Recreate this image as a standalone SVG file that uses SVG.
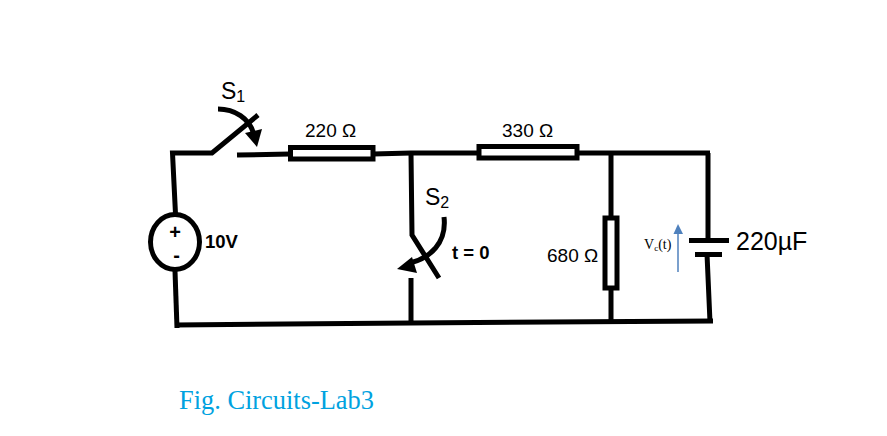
<svg xmlns="http://www.w3.org/2000/svg" width="887" height="436" viewBox="0 0 887 436">
<style>
.w{fill:none;stroke:#000;stroke-width:5}
.r{fill:#fff;stroke:#000;stroke-width:5}
.a{fill:#000;stroke:none}
text{font-family:"Liberation Sans",Arial,sans-serif;fill:#000}
.l{font-size:19px}
.b{font-size:18.500px;font-weight:bold}
.s{font-size:23px}
.sub{font-size:16px}
.t{font-family:"Liberation Serif","Times New Roman",serif}
</style>
<rect width="887" height="436" fill="#fff"/>
<g id="connectors">
<path class="w" d="M175.500 214L172.500 153H212L258 115"/>
<path class="w" d="M237 155L290 154"/>
<path class="w" d="M373 154L411 153H478"/>
<path class="w" d="M577 153H710"/>
<path class="w" d="M411 153L412 235L439 278"/>
<path class="w" d="M411 278V323"/>
<path class="w" d="M175 271L177 328"/>
<path class="w" d="M175 325L411 323L713 321"/>
<path class="w" d="M611 153V218M611 288V322"/>
<path class="w" d="M708 153V240M707 254L710 322"/>
</g>
<g id="s1-arrow">
<path class="w" d="M218 109C234 109 250 118 254 135"/>
<polygon class="a" points="257,147 245,133 262,129"/>
</g>
<g id="s2-arrow">
<path class="w" d="M444 217C447 243 430 258 410 263"/>
<polygon class="a" points="397,269 412,257 417,273"/>
</g>
<g id="source">
<ellipse cx="175" cy="242" rx="24.500" ry="27.500" fill="#fff" stroke="#000" stroke-width="5"/>
<text x="175" y="239" text-anchor="middle" font-size="20" font-weight="bold">+</text>
<text x="176.500" y="262" text-anchor="middle" font-size="20" font-weight="bold">-</text>
<text class="b" x="205" y="248">10V</text>
</g>
<g id="r220">
<rect class="r" x="290.500" y="147.500" width="82.500" height="11.500"/>
<text class="l" x="305" y="137">220 Ω</text>
</g>
<g id="r330">
<rect class="r" x="479" y="146.500" width="98" height="11.500"/>
<text class="l" x="502" y="137">330 Ω</text>
</g>
<g id="r680">
<rect class="r" x="605" y="218" width="12" height="70"/>
<text class="l" x="547" y="262">680 Ω</text>
</g>
<g id="cap">
<path class="w" d="M689 240.500H729M695 254.500H722"/>
<text x="736" y="250" font-size="25">220µF</text>
</g>
<g id="vc">
<path d="M678 272V232" fill="none" stroke="#4f81bd" stroke-width="1.500"/>
<polygon points="678,224 683,234 673.500,234" fill="#4f81bd"/>
<text class="t" x="644" y="249" font-size="14">V<tspan font-size="9" dy="2">c</tspan><tspan dy="-2">(t)</tspan></text>
</g>
<g id="labels">
<text class="s" x="221" y="99">S<tspan class="sub" dy="3">1</tspan></text>
<text class="s" x="425" y="205">S<tspan class="sub" dy="3">2</tspan></text>
<text class="b" x="452" y="259">t = 0</text>
<text class="t" x="179" y="409" font-size="26.400" style="fill:#00a2e0">Fig. Circuits-Lab3</text>
</g>
</svg>
